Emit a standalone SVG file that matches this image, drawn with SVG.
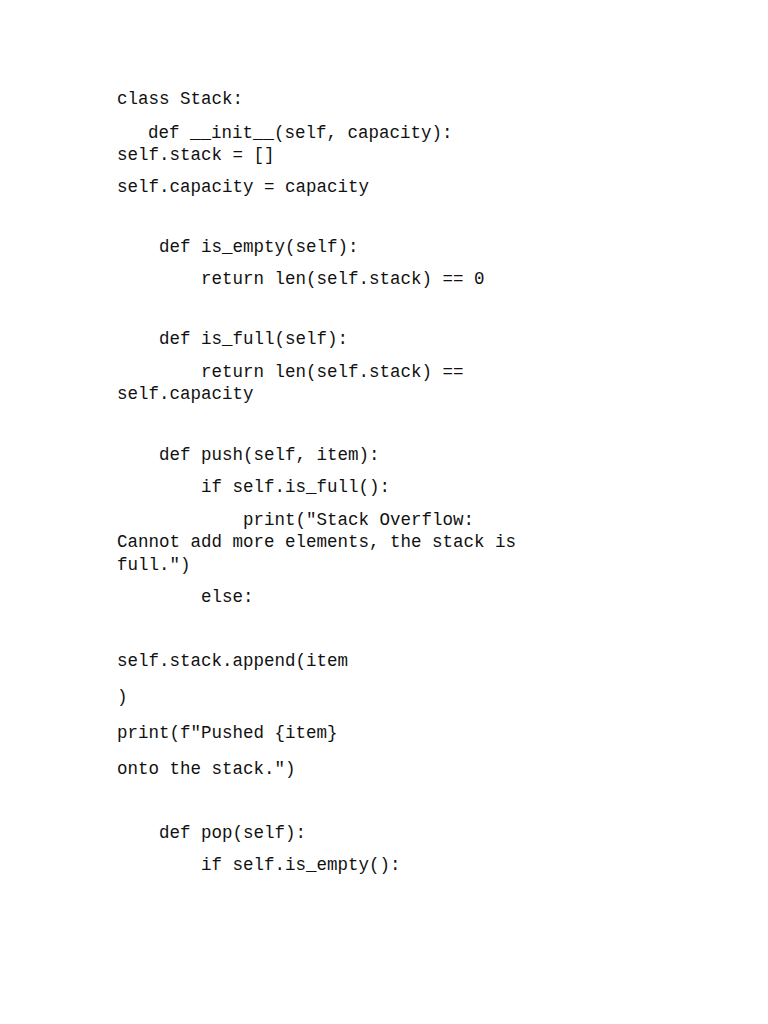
<svg xmlns="http://www.w3.org/2000/svg" width="768" height="1024" viewBox="0 0 768 1024">
<style>text{font-family:"Liberation Mono","DejaVu Sans Mono",monospace;font-size:17.5px;fill:#111;white-space:pre}</style>
<rect width="768" height="1024" fill="#fff"/>
<g id="code">
<text x="117" y="104">class Stack:</text>
<text x="148" y="138">def __init__(self, capacity):</text>
<text x="117" y="160">self.stack = []</text>
<text x="117" y="192">self.capacity = capacity</text>
<text x="159" y="252">def is_empty(self):</text>
<text x="201" y="284">return len(self.stack) == 0</text>
<text x="159" y="344">def is_full(self):</text>
<text x="201" y="377">return len(self.stack) ==</text>
<text x="117" y="399">self.capacity</text>
<text x="159" y="460">def push(self, item):</text>
<text x="201" y="492">if self.is_full():</text>
<text x="243" y="525">print("Stack Overflow:</text>
<text x="117" y="547">Cannot add more elements, the stack is</text>
<text x="117" y="570">full.")</text>
<text x="201" y="602">else:</text>
<text x="117" y="666">self.stack.append(item</text>
<text x="117" y="702">)</text>
<text x="117" y="738">print(f"Pushed {item}</text>
<text x="117" y="774">onto the stack.")</text>
<text x="159" y="838">def pop(self):</text>
<text x="201" y="870">if self.is_empty():</text>
</g>
</svg>
